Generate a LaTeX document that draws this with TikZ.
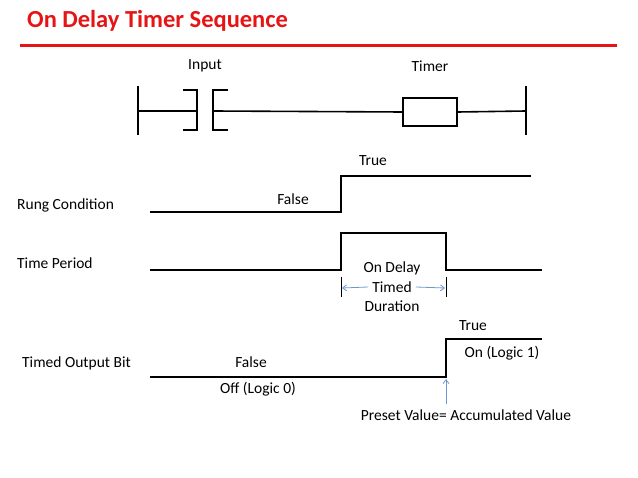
\documentclass[tikz,border=0pt]{standalone}
\usepackage{fontspec}
\setmainfont{Carlito}
\usetikzlibrary{arrows.meta}
\definecolor{tred}{RGB}{230,20,20}
\definecolor{ablue}{RGB}{110,150,210}
\begin{document}
\begin{tikzpicture}[x=1pt,y=-1pt,
  lbl/.style={font=\fontsize{15.5}{18}\selectfont,inner sep=0pt},
  wire/.style={line width=1.6pt},
  sig/.style={line width=1.6pt},
  barr/.style={ablue,line width=0.8pt,-{Straight Barb[length=4pt,width=6pt]}}]
\useasboundingbox (0,0) rectangle (638,478);
\node[anchor=west,text=tred,font=\fontsize{24.5}{28}\bfseries\selectfont,inner sep=0pt] (title) at (27,21) {On Delay Timer Sequence};
\draw[tred,line width=3pt] (20,46) -- (617,46);
% ladder
\node[lbl] (inp) at (205,66) {Input};
\node[lbl] (tmr) at (430,66) {Timer};
\draw[wire] (138,86) -- (138,135);
\draw[wire] (526,86) -- (526,135);
\draw[wire] (138,111) -- (197,111);
\draw[wire] (183,90) -- (197,90) -- (197,130) -- (183,130);
\draw[wire] (228,90) -- (213,90) -- (213,130) -- (228,130);
\node[draw,line width=1.6pt,minimum width=54pt,minimum height=28pt,inner sep=0pt] (box) at (430,112) {};
\draw[wire] (213,111) -- (box.west);
\draw[wire] (box.east) -- (526,111);
% rung condition
\node[lbl,anchor=west] (rc) at (17,205) {Rung Condition};
\draw[sig] (150,212) -- (341,212) -- (341,176) -- (531,176);
\node[lbl] (f1) at (293,199) {False};
\node[lbl] (t1) at (373,161) {True};
% time period
\node[lbl,anchor=west] (tp) at (17,263) {Time Period};
\draw[sig] (150,270) -- (341,270) -- (341,233) -- (446,233) -- (446,270) -- (542,270);
\node[lbl] (od) at (392,268) {On Delay};
\node[lbl] (td) at (392,287) {Timed};
\node[lbl] (du) at (392,306) {Duration};
\draw[line width=1pt] (341,277) -- (341,297);
\draw[line width=1pt] (446,277) -- (446,297);
\draw[barr] (td.west) ++(-4,0) -- (342,288);
\draw[barr] (td.east) ++(4,0) -- (445,288);
% timed output bit
\node[lbl,anchor=west] (tob) at (22,363) {Timed Output Bit};
\draw[sig] (150,377) -- (446,377) -- (446,339) -- (542,339);
\node[lbl] (t2) at (473,326) {True};
\node[lbl] (on) at (502,353) {On (Logic 1)};
\node[lbl] (f2) at (251,362) {False};
\node[lbl] (off) at (258,389) {Off (Logic 0)};
\node[lbl] (pv) at (466,415) {Preset Value= Accumulated Value};
\coordinate (edge) at (446,379);
\draw[barr] (446,404) -- (edge);
\end{tikzpicture}
\end{document}
